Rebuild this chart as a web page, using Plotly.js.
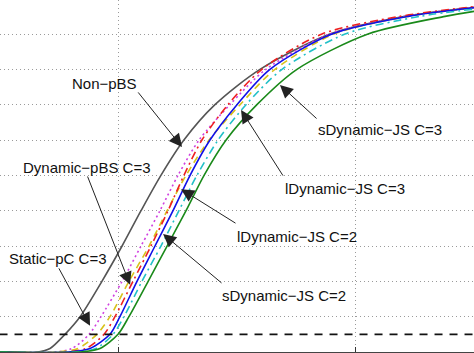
<!DOCTYPE html>
<html>
<head>
<meta charset="utf-8">
<script src="https://cdn.plot.ly/plotly-3.0.1.min.js"></script>
<style>html,body{margin:0;padding:0;background:#fff;}#chart{width:474px;height:353px;}</style>
</head>
<body>
<div id="chart"></div>
<script>
// CDF levels shared by all curves (y values)
const yLevels = [0, 0, 0.01, 0.05, 0.1, 0.2, 0.3, 0.4, 0.5, 0.6, 0.7, 0.8, 0.9, 0.95];
// x positions at which each curve reaches the levels above
const xNonPBS      = [5.0, 6.62, 7.13, 7.76, 8.40, 9.32, 10.17, 10.97, 11.81, 12.78, 14.09, 15.99, 18.94, 22.11];
const xStaticPC3   = [5.0, 7.34, 8.06, 8.78, 9.28, 10.17, 10.97, 11.77, 12.53, 13.42, 14.72, 16.24, 18.94, 22.11];
const xDynPBS3     = [5.0, 7.47, 8.31, 9.11, 9.66, 10.46, 11.31, 12.07, 12.87, 13.84, 15.15, 16.62, 19.11, 22.24];
const xLDynJS2     = [5.0, 7.76, 8.65, 9.41, 9.87, 10.63, 11.39, 12.11, 12.78, 13.54, 14.64, 16.07, 18.61, 21.90];
const xSDynJS2     = [5.0, 7.89, 8.82, 9.66, 10.08, 10.80, 11.56, 12.32, 13.04, 13.88, 15.02, 16.41, 19.03, 22.24];
const xLDynJS3     = [5.0, 8.18, 9.07, 9.79, 10.25, 11.01, 11.81, 12.57, 13.33, 14.22, 15.40, 16.92, 19.58, 22.74];
const xSDynJS3     = [5.0, 8.40, 9.24, 10.00, 10.46, 11.27, 12.07, 12.87, 13.63, 14.56, 15.86, 17.55, 20.55, 23.80];
// value each curve reaches at the right edge (x = 25.1)
const xEnd = 25.1;
const yEnd = {nonpbs: 0.976, static3: 0.976, dyn3: 0.975, ldyn2: 0.978, sdyn2: 0.975, ldyn3: 0.971, sdyn3: 0.965};
const threshold = 0.05;
const xTicks = [10, 20];
const yTicks = [0, 0.1, 0.2, 0.3, 0.4, 0.5, 0.6, 0.7, 0.8, 0.9, 1.0];

// Labels: text position, arrow tail, arrow tip (data units)
const labelText  = ["Non−pBS", "Dynamic−pBS C=3", "Static−pC C=3", "sDynamic−JS C=3", "lDynamic−JS C=3", "lDynamic−JS C=2", "sDynamic−JS C=2"];
const labelX     = [9.41, 8.69, 7.47, 21.05, 19.58, 17.55, 17.00];
const labelY     = [0.761, 0.521, 0.266, 0.631, 0.464, 0.328, 0.159];
const tailX      = [10.80, 8.69, 7.47, 18.44, 17.00, 15.02, 14.43];
const tailY      = [0.739, 0.501, 0.241, 0.657, 0.495, 0.362, 0.192];
const tipX       = [12.70, 10.51, 8.82, 16.83, 15.19, 12.66, 11.90];
const tipY       = [0.580, 0.190, 0.074, 0.756, 0.685, 0.461, 0.334];

function curve(xs, yend, color, dash, width) {
  return {
    x: xs.concat([xEnd]), y: yLevels.concat([yend]),
    type: 'scatter', mode: 'lines',
    line: {color: color, dash: dash, width: width, shape: 'spline', smoothing: 0.8},
    hoverinfo: 'skip', showlegend: false
  };
}

const data = [
  curve(xNonPBS, yEnd.nonpbs, '#555555', 'solid', 1.6),
  curve(xStaticPC3, yEnd.static3, '#d040e0', '2px,3px', 1.6),
  curve(xDynPBS3, yEnd.dyn3, '#d8c21a', '7px,5px', 1.6),
  curve(xLDynJS2, yEnd.ldyn2, '#ee2020', '8px,4px,2px,4px', 1.6),
  curve(xSDynJS2, yEnd.sdyn2, '#1010e8', 'solid', 1.6),
  curve(xLDynJS3, yEnd.ldyn3, '#22c0c8', '8px,4px,2px,4px', 1.6),
  curve(xSDynJS3, yEnd.sdyn3, '#1a8a1a', 'solid', 1.6),
  {x: [5.0, xEnd], y: [threshold, threshold], type: 'scatter', mode: 'lines',
   line: {color: '#111', dash: '8px,7px', width: 1.6}, hoverinfo: 'skip', showlegend: false}
];

const annotations = [];
for (let i = 0; i < labelText.length; i++) {
  annotations.push({x: labelX[i], y: labelY[i], xref: 'x', yref: 'y', text: labelText[i],
    showarrow: false, font: {family: 'Liberation Sans, Arial, sans-serif', size: 15, color: '#111'}});
  annotations.push({x: tipX[i], y: tipY[i], xref: 'x', yref: 'y', ax: tailX[i], ay: tailY[i],
    axref: 'x', ayref: 'y', text: '', showarrow: true, arrowhead: 2, arrowsize: 2.6,
    arrowwidth: 1, arrowcolor: '#222', standoff: 0, startstandoff: 0});
}

const gridStyle = {showgrid: true, gridcolor: '#9a9a9a', griddash: '1px,3px', gridwidth: 1};
const layout = {
  width: 474, height: 353,
  margin: {l: 0, r: 0, t: 0, b: 1, pad: 0},
  paper_bgcolor: '#fff', plot_bgcolor: '#fff',
  showlegend: false,
  xaxis: Object.assign({range: [5.02, 25.02], tickvals: xTicks, ticks: 'inside', ticklen: 5, tickcolor: '#333',
    showticklabels: false, showline: true, linecolor: '#444', linewidth: 1.5, zeroline: false}, gridStyle),
  xaxis2: {range: [5.02, 25.02], overlaying: 'x', side: 'top', tickvals: xTicks, ticks: 'inside', ticklen: 5,
    tickcolor: '#333', showticklabels: false, showgrid: false, showline: false, zeroline: false},
  yaxis: Object.assign({range: [0, 0.9963], tickvals: yTicks, ticks: '', showticklabels: false,
    showline: false, zeroline: false}, gridStyle),
  yaxis2: {range: [0, 0.9963], overlaying: 'y', side: 'right', tickvals: yTicks, ticks: 'inside', ticklen: 6,
    tickcolor: '#333', showticklabels: false, showgrid: false, showline: false, zeroline: false},
  annotations: annotations
};

Plotly.newPlot('chart', data, layout, {staticPlot: true, displayModeBar: false});
</script>
</body>
</html>
